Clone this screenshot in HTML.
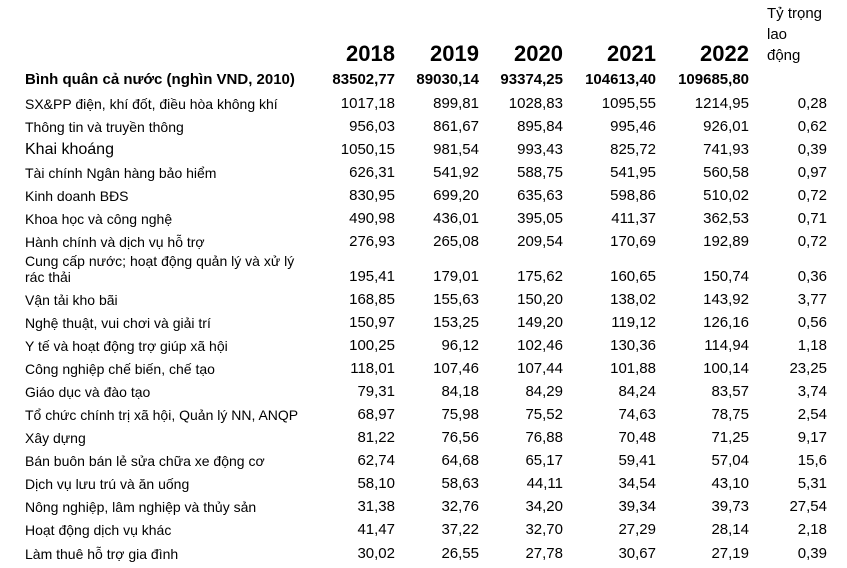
<!DOCTYPE html>
<html><head><meta charset="utf-8"><style>
body{margin:0;width:847px;height:568px;background:#fff;position:relative;overflow:hidden;font-family:"Liberation Sans",Arial,sans-serif;color:#000}
.r{position:absolute;left:0;width:847px;height:20px;line-height:20px;font-size:14px}
.r div{position:absolute;top:0;white-space:nowrap}
.l{left:25px}
.n{font-size:15px}
.c1{right:452px}.c2{right:368px}.c3{right:284px}.c4{right:191px}.c5{right:98px}.c6{right:20px}
.h{font-size:22px;font-weight:bold}
.b{font-weight:bold;font-size:15px}
.sh{position:absolute;left:767px;top:3px;font-size:15px;line-height:21px}
</style></head><body>
<div class="sh">Tỷ trọng<br>lao<br>động</div>
<div class="r h" style="top:41px;height:26px;line-height:26px"><div class="c1">2018</div><div class="c2">2019</div><div class="c3">2020</div><div class="c4">2021</div><div class="c5">2022</div></div>
<div class="r b" style="top:70px"><div class="l">Bình quân cả nước (nghìn VND, 2010)</div><div class="c1">83502,77</div><div class="c2">89030,14</div><div class="c3">93374,25</div><div class="c4">104613,40</div><div class="c5">109685,80</div></div>
<div class="r" style="top:94px"><div class="l">SX&amp;PP điện, khí đốt, điều hòa không khí</div><div class="n c1">1017,18</div><div class="n c2">899,81</div><div class="n c3">1028,83</div><div class="n c4">1095,55</div><div class="n c5">1214,95</div><div class="n c6">0,28</div></div>
<div class="r" style="top:117px"><div class="l">Thông tin và truyền thông</div><div class="n c1">956,03</div><div class="n c2">861,67</div><div class="n c3">895,84</div><div class="n c4">995,46</div><div class="n c5">926,01</div><div class="n c6">0,62</div></div>
<div class="r" style="top:140px"><div class="l" style="font-size:16px">Khai khoáng</div><div class="n c1">1050,15</div><div class="n c2">981,54</div><div class="n c3">993,43</div><div class="n c4">825,72</div><div class="n c5">741,93</div><div class="n c6">0,39</div></div>
<div class="r" style="top:163px"><div class="l">Tài chính Ngân hàng bảo hiểm</div><div class="n c1">626,31</div><div class="n c2">541,92</div><div class="n c3">588,75</div><div class="n c4">541,95</div><div class="n c5">560,58</div><div class="n c6">0,97</div></div>
<div class="r" style="top:186px"><div class="l">Kinh doanh BĐS</div><div class="n c1">830,95</div><div class="n c2">699,20</div><div class="n c3">635,63</div><div class="n c4">598,86</div><div class="n c5">510,02</div><div class="n c6">0,72</div></div>
<div class="r" style="top:209px"><div class="l">Khoa học và công nghệ</div><div class="n c1">490,98</div><div class="n c2">436,01</div><div class="n c3">395,05</div><div class="n c4">411,37</div><div class="n c5">362,53</div><div class="n c6">0,71</div></div>
<div class="r" style="top:232px"><div class="l">Hành chính và dịch vụ hỗ trợ</div><div class="n c1">276,93</div><div class="n c2">265,08</div><div class="n c3">209,54</div><div class="n c4">170,69</div><div class="n c5">192,89</div><div class="n c6">0,72</div></div>
<div class="r" style="top:251px"><div class="l">Cung cấp nước; hoạt động quản lý và xử lý</div></div>
<div class="r" style="top:267px"><div class="l">rác thải</div><div class="n c1">195,41</div><div class="n c2">179,01</div><div class="n c3">175,62</div><div class="n c4">160,65</div><div class="n c5">150,74</div><div class="n c6">0,36</div></div>
<div class="r" style="top:290px"><div class="l">Vận tải kho bãi</div><div class="n c1">168,85</div><div class="n c2">155,63</div><div class="n c3">150,20</div><div class="n c4">138,02</div><div class="n c5">143,92</div><div class="n c6">3,77</div></div>
<div class="r" style="top:313px"><div class="l">Nghệ thuật, vui chơi và giải trí</div><div class="n c1">150,97</div><div class="n c2">153,25</div><div class="n c3">149,20</div><div class="n c4">119,12</div><div class="n c5">126,16</div><div class="n c6">0,56</div></div>
<div class="r" style="top:336px"><div class="l">Y tế và hoạt động trợ giúp xã hội</div><div class="n c1">100,25</div><div class="n c2">96,12</div><div class="n c3">102,46</div><div class="n c4">130,36</div><div class="n c5">114,94</div><div class="n c6">1,18</div></div>
<div class="r" style="top:359px"><div class="l">Công nghiệp chế biến, chế tạo</div><div class="n c1">118,01</div><div class="n c2">107,46</div><div class="n c3">107,44</div><div class="n c4">101,88</div><div class="n c5">100,14</div><div class="n c6">23,25</div></div>
<div class="r" style="top:382px"><div class="l">Giáo dục và đào tạo</div><div class="n c1">79,31</div><div class="n c2">84,18</div><div class="n c3">84,29</div><div class="n c4">84,24</div><div class="n c5">83,57</div><div class="n c6">3,74</div></div>
<div class="r" style="top:405px"><div class="l">Tổ chức chính trị xã hội, Quản lý NN, ANQP</div><div class="n c1">68,97</div><div class="n c2">75,98</div><div class="n c3">75,52</div><div class="n c4">74,63</div><div class="n c5">78,75</div><div class="n c6">2,54</div></div>
<div class="r" style="top:428px"><div class="l">Xây dựng</div><div class="n c1">81,22</div><div class="n c2">76,56</div><div class="n c3">76,88</div><div class="n c4">70,48</div><div class="n c5">71,25</div><div class="n c6">9,17</div></div>
<div class="r" style="top:451px"><div class="l">Bán buôn bán lẻ sửa chữa xe động cơ</div><div class="n c1">62,74</div><div class="n c2">64,68</div><div class="n c3">65,17</div><div class="n c4">59,41</div><div class="n c5">57,04</div><div class="n c6">15,6</div></div>
<div class="r" style="top:474px"><div class="l">Dịch vụ lưu trú và ăn uống</div><div class="n c1">58,10</div><div class="n c2">58,63</div><div class="n c3">44,11</div><div class="n c4">34,54</div><div class="n c5">43,10</div><div class="n c6">5,31</div></div>
<div class="r" style="top:497px"><div class="l">Nông nghiệp, lâm nghiệp và thủy sản</div><div class="n c1">31,38</div><div class="n c2">32,76</div><div class="n c3">34,20</div><div class="n c4">39,34</div><div class="n c5">39,73</div><div class="n c6">27,54</div></div>
<div class="r" style="top:520px"><div class="l">Hoạt động dịch vụ khác</div><div class="n c1">41,47</div><div class="n c2">37,22</div><div class="n c3">32,70</div><div class="n c4">27,29</div><div class="n c5">28,14</div><div class="n c6">2,18</div></div>
<div class="r" style="top:544px"><div class="l">Làm thuê hỗ trợ gia đình</div><div class="n c1">30,02</div><div class="n c2">26,55</div><div class="n c3">27,78</div><div class="n c4">30,67</div><div class="n c5">27,19</div><div class="n c6">0,39</div></div>
</body></html>
